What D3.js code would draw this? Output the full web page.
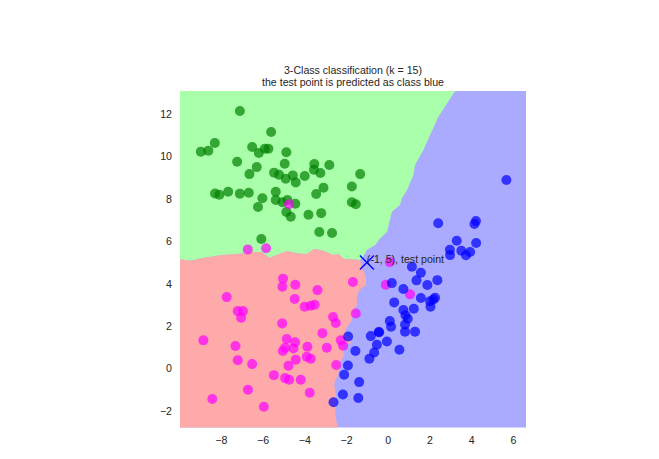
<!DOCTYPE html>
<html>
<head>
<meta charset="utf-8">
<script src="https://d3js.org/d3.v7.min.js"></script>
<style>
  html, body { margin: 0; background: #fff; }
  svg { display: block; }
  text { font-family: "Liberation Sans", Arial, sans-serif; fill: #262626; }
  .tick text { font-size: 10.6px; }
</style>
</head>
<body>
<div id="chart"></div>
<script>
const greenPoints = [
  [-7.09,12.15],[-5.59,11.16],[-8.29,10.64],[-8.60,10.27],[-8.96,10.23],[-6.50,10.45],[-6.18,10.17],
  [-5.89,10.37],[-5.72,10.37],[-4.86,10.20],[-7.22,9.75],[-4.94,9.66],[-6.28,9.50],[-6.63,9.17],
  [-5.45,9.24],[-5.21,9.14],[-4.89,8.95],[-4.55,9.11],[-4.41,8.78],[-3.98,9.08],[-3.54,9.38],
  [-3.52,9.65],[-3.23,9.22],[-2.80,9.60],[-3.08,8.53],[-1.72,8.59],[-1.32,9.17],[-8.28,8.26],
  [-8.07,8.20],[-7.65,8.34],[-7.09,8.25],[-6.66,8.29],[-6.01,8.03],[-6.22,7.62],[-5.37,8.34],
  [-5.37,7.95],[-5.05,7.84],[-4.81,7.95],[-4.43,7.77],[-4.86,7.38],[-4.65,7.16],[-3.80,7.25],
  [-3.19,7.33],[-3.43,8.23],[-1.72,7.84],[-1.53,7.75],[-3.28,6.44],[-2.67,6.39],[-6.06,6.11]
];

const magentaPoints = [
  [-4.73,7.75],[-6.71,5.62],[-5.83,5.67],[-5.02,4.24],[-5.05,3.86],[-4.43,3.95],[-7.72,3.37],
  [-3.37,3.70],[-4.46,3.28],[-7.19,2.71],[-6.94,2.71],[-7.03,2.40],[-3.98,2.92],[-3.69,2.96],
  [-3.50,3.01],[-2.62,2.43],[-1.67,4.08],[-5.06,2.13],[-2.49,2.15],[0.10,5.02],[-0.09,3.95],
  [1.07,3.50],[-1.53,2.60],[-8.84,1.33],[-7.30,1.06],[-7.19,0.39],[-6.50,0.21],[-4.84,1.39],
  [-4.44,1.24],[-4.92,0.98],[-5.03,0.83],[-4.52,0.95],[-3.85,1.03],[-3.13,1.67],[-2.92,0.98],
  [-2.25,1.33],[-2.14,1.08],[-3.88,0.56],[-3.69,0.46],[-4.41,0.42],[-4.76,0.13],[-2.47,0.17],
  [-5.46,-0.31],[-4.92,-0.45],[-4.73,-0.53],[-4.17,-0.53],[-6.70,-1.00],[-3.74,-1.14],
  [-8.41,-1.44],[-5.94,-1.80]
];

const bluePoints = [
  [5.69,8.89],[2.42,6.85],[4.23,6.96],[4.16,6.82],[3.31,6.03],[4.24,5.92],[2.98,5.60],[2.99,5.35],
  [3.53,5.56],[3.75,5.34],[3.95,5.50],[1.16,4.80],[1.59,4.52],[1.38,4.16],[2.38,4.17],[1.90,3.94],
  [0.20,4.03],[0.75,3.75],[1.59,3.33],[2.27,3.34],[2.19,3.26],[2.03,3.18],[2.05,2.92],[0.31,3.12],
  [0.75,2.76],[1.25,2.82],[0.85,2.51],[0.96,2.35],[0.10,2.24],[0.16,1.97],[0.83,2.08],[0.83,1.74],
  [1.31,1.74],[-0.41,1.71],[-0.43,1.72],[-0.81,1.53],[-0.04,1.28],[-0.52,1.12],[0.56,0.89],
  [-0.65,0.76],[-0.88,0.46],[-1.55,0.83],[-1.90,1.51],[-1.91,0.14],[-2.09,-0.29],[-2.15,-1.22],
  [-2.60,-1.59],[-1.37,-0.64],[-1.41,-1.39]
];

// decision boundaries
const greenRedEdge = [
  [-9.96,5.15],[-9.48,5.08],[-8.84,5.21],[-8.04,5.34],[-7.24,5.40],[-6.44,5.50],[-6.04,5.50],
  [-5.67,5.23],[-5.32,5.35],[-4.84,5.54],[-4.28,5.43],[-3.88,5.40],[-3.53,5.64],[-3.16,5.58],
  [-2.60,5.35],[-2.36,5.40],[-2.12,5.18],[-1.32,5.12]
];
const redBlueEdge = [
  [-1.32,5.12],[-1.24,4.74],[-1.04,4.32],[-1.04,3.94],[-1.36,3.70],[-1.48,3.37],[-1.48,3.00],
  [-1.64,2.76],[-1.72,2.29],[-2.04,1.82],[-2.04,1.69],[-1.77,1.26],[-1.77,1.19],[-2.12,1.14],
  [-2.12,0.56],[-2.25,0.40],[-2.36,-0.23],[-2.57,-0.73],[-2.47,-1.33],[-2.52,-2.10],[-2.41,-2.78]
];
const greenBlueEdge = [
  [-1.32,5.12],[-1.08,5.43],[-1.00,5.59],[-0.60,5.83],[-0.36,6.14],[-0.03,6.45],[0.08,6.92],
  [0.20,7.40],[0.59,7.71],[0.68,8.03],[0.93,8.42],[1.23,9.13],[1.31,9.60],[1.71,10.31],
  [2.03,11.01],[2.43,11.88],[3.23,13.09]
];

const testPoint = [-1, 5];
const xTicks = [-8, -6, -4, -2, 0, 2, 4, 6];
const yTicks = [-2, 0, 2, 4, 6, 8, 10, 12];
const xLimits = [-9.96, 6.63];
const yLimits = [-2.78, 13.09];

const width = 659, height = 459;
const svg = d3.select("#chart").append("svg")
  .attr("width", width)
  .attr("height", height);

const x = d3.scaleLinear().domain(xLimits).range([180, 526]);
const y = d3.scaleLinear().domain(yLimits).range([427.5, 91]);
const line = d3.line().x(d => x(d[0])).y(d => y(d[1]));

// regions
const [xMin, xMax] = xLimits;
const [yMin, yMax] = yLimits;
const regions = [
  { fill: "#aaaaff", pts: [[xMin, yMin], [xMax, yMin], [xMax, yMax], [xMin, yMax]] },
  { fill: "#aaffaa", pts: [[xMin, yMax], ...greenRedEdge, ...greenBlueEdge] },
  { fill: "#ffaaaa", pts: [[xMin, yMin], ...greenRedEdge, ...redBlueEdge] }
];
svg.selectAll(".region")
  .data(regions)
  .enter()
  .append("path")
  .attr("class", "region")
  .attr("d", d => line(d.pts) + "Z")
  .attr("fill", d => d.fill);

// training points
const groups = [
  { color: "#008000", pts: greenPoints },
  { color: "#ff00ff", pts: magentaPoints },
  { color: "#0000ff", pts: bluePoints }
];
groups.forEach(g => {
  svg.append("g").selectAll("circle")
    .data(g.pts)
    .enter()
    .append("circle")
    .attr("cx", d => x(d[0]))
    .attr("cy", d => y(d[1]))
    .attr("r", 5)
    .attr("fill", g.color)
    .attr("fill-opacity", 0.7);
});

// test point marker
const tx = x(testPoint[0]), ty = y(testPoint[1]), m = 7;
svg.append("path")
  .attr("d", `M${tx - m},${ty - m}L${tx + m},${ty + m}M${tx - m},${ty + m}L${tx + m},${ty - m}`)
  .attr("stroke", "#0000ff")
  .attr("stroke-width", 1.3)
  .attr("fill", "none");

svg.append("text")
  .attr("x", tx)
  .attr("y", ty)
  .attr("font-size", 10.6)
  .text("(-1, 5), test point");

// axes
const fmt = d => d < 0 ? "\u2212" + Math.abs(d) : String(d);
const xAxis = svg.append("g")
  .attr("transform", `translate(0,${y(yMin)})`)
  .call(d3.axisBottom(x).tickValues(xTicks).tickFormat(fmt).tickSize(0).tickPadding(9));
const yAxis = svg.append("g")
  .attr("transform", `translate(${x(xMin)},0)`)
  .call(d3.axisLeft(y).tickValues(yTicks).tickFormat(fmt).tickSize(0).tickPadding(8));
xAxis.select(".domain").remove();
yAxis.select(".domain").remove();

// title
const titleX = (x(xMin) + x(xMax)) / 2;
svg.append("text")
  .attr("x", titleX).attr("y", 74)
  .attr("text-anchor", "middle")
  .attr("font-size", 10.6)
  .text("3-Class classification (k = 15)");
svg.append("text")
  .attr("x", titleX).attr("y", 86)
  .attr("text-anchor", "middle")
  .attr("font-size", 10.6)
  .text("the test point is predicted as class blue");
</script>
</body>
</html>
